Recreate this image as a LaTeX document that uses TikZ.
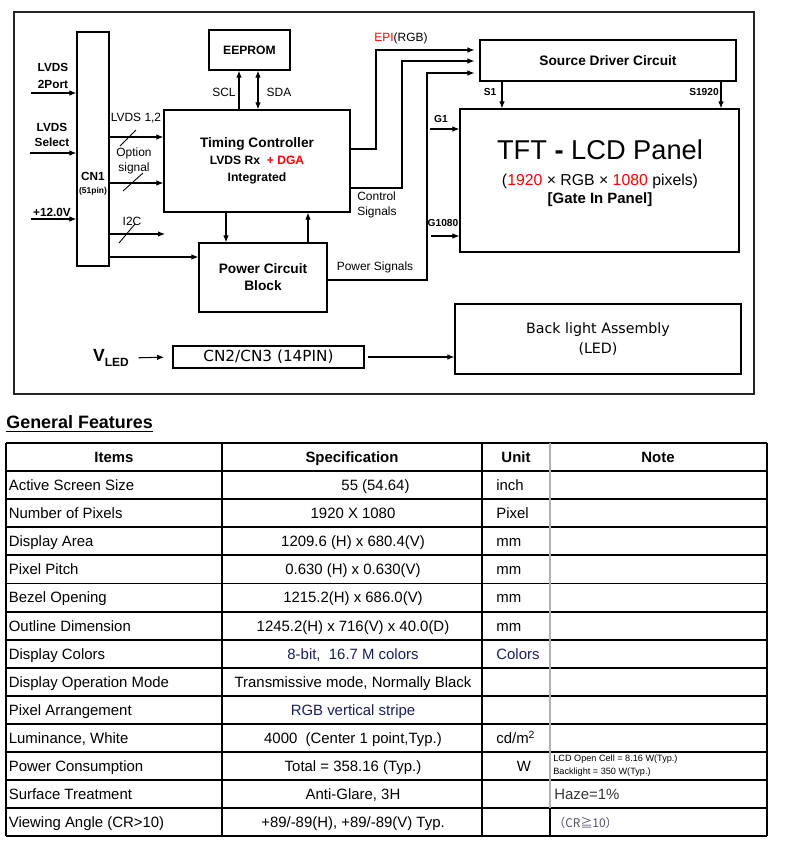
\documentclass[tikz,border=0pt]{standalone}
\usepackage{fontspec}
\setmainfont{Liberation Sans}
\newfontfamily\verdanafont{DejaVu Sans}
\newfontfamily\cjkfont{Noto Sans CJK SC}
\usetikzlibrary{positioning,arrows.meta}
\definecolor{specblue}{RGB}{25,30,90}
\definecolor{notegray}{RGB}{80,80,110}

\begin{document}
\begin{tikzpicture}[
    x=0.02cm, y=-0.02cm,
    block/.style={draw, line width=0.7pt, align=center, inner sep=0pt, font=\bfseries\fontsize{7.8}{9.6}\selectfont},
    lbl/.style={inner sep=0pt, align=center, font=\fontsize{6.8}{8.5}\selectfont},
    pinlbl/.style={inner sep=0pt, align=center, font=\bfseries\fontsize{6.7}{8.4}\selectfont},
    sig/.style={inner sep=0pt, font=\bfseries\fontsize{5.8}{7}\selectfont},
    tick/.style={line width=0.5pt},
    arrow/.style={-{Latex[length=1.4mm, width=1.1mm]}, line width=0.6pt},
    biarrow/.style={{Latex[length=1.4mm, width=1.1mm]}-{Latex[length=1.4mm, width=1.1mm]}, line width=0.6pt},
    cell/.style={inner sep=0pt, text height=8pt, text depth=1.8pt, font=\fontsize{8.5}{10}\selectfont},
    headcell/.style={cell, font=\bfseries\fontsize{8.5}{10}\selectfont},
    grid/.style={line width=1.1pt}
]
\useasboundingbox (0,0) rectangle (786,849);
\draw[line width=0.9pt, black!85] (14,12) rectangle (754,394);

\node[block, minimum width=0.64cm, minimum height=4.68cm] (cn1) at (93,149) {};
\node[pinlbl] (cn1txt) at (93,184) {CN1\\[-1pt]{\fontsize{4.8}{5}\selectfont(51pin)}};
\node[block, font=\bfseries\fontsize{6.9}{8}\selectfont, minimum width=1.62cm, minimum height=0.8cm] (eeprom) at (249.5,50) {EEPROM};
\node[block, minimum width=3.72cm, minimum height=2.04cm] (tcon) at (257,161) {Timing Controller\\{\fontsize{6.9}{8}\selectfont LVDS Rx\ \ \textcolor{red}{+ DGA}}\\{\fontsize{6.9}{8}\selectfont Integrated}};
\node[block, minimum width=2.56cm, minimum height=1.38cm] (pcb) at (263,277.5) {Power Circuit\\Block};
\node[block, minimum width=5.12cm, minimum height=0.82cm] (sdc) at (608,60.5) {Source Driver Circuit};
\node[block, minimum width=5.58cm, minimum height=2.86cm] (panel) at (599.5,180.5) {};
\node[inner sep=0pt, align=center, font=\fontsize{9}{10.2}\selectfont] (paneltxt) at (600,173) {{\fontsize{15.5}{17}\selectfont TFT {\bfseries -} LCD Panel}\\[4.5pt](\textcolor{red}{1920} × RGB × \textcolor{red}{1080} pixels)\\{\bfseries\fontsize{8.5}{10}\selectfont [Gate In Panel]}};
\node[block, font=\verdanafont\fontsize{8.1}{11.9}\selectfont, minimum width=5.72cm, minimum height=1.4cm] (blu) at (598,339) {Back light Assembly\\(LED)};
\node[block, line width=1.1pt, font=\verdanafont\fontsize{8.7}{10}\selectfont, minimum width=3.82cm, minimum height=0.44cm] (cn2) at (268.5,357) {CN2/CN3 (14PIN)};

\node[pinlbl] (lbl2port) at (53,76) {LVDS\\[1.5pt]2Port};
\node[pinlbl] (lblsel) at (52,135) {LVDS\\Select};
\node[pinlbl] (lbl12v) at (52,212) {+12.0V};
\node[lbl] (lblscl) at (224,92) {SCL};
\node[lbl] (lblsda) at (279,92) {SDA};
\node[lbl] (lbllvds) at (136,118) {LVDS 1,2};
\node[lbl] (lblopt) at (134,161) {Option\\signal};
\node[lbl] (lbli2c) at (132,221) {I2C};
\node[lbl] (lblepi) at (401,38) {\textcolor{red}{EPI}(RGB)};
\node[lbl, align=left, anchor=west] (lblctl) at (357,205) {Control\\Signals};
\node[lbl] (lblpwr) at (375,267) {Power Signals};
\node[sig] (lbls1) at (490,92) {S1};
\node[sig] (lblsn) at (704,92) {S1920};
\node[sig] (lblg1) at (441,119) {G1};
\node[sig] (lblgn) at (443,223) {G1080};
\node[inner sep=0pt, anchor=east, font=\bfseries\fontsize{10}{12}\selectfont] (vled) at (129,358) {V\raisebox{-0.5ex}{\fontsize{6.8}{8}\selectfont LED}};

\coordinate (in2port) at (31,93);
\coordinate (insel) at (30,153);
\coordinate (in12v) at (31,219);
\coordinate (lvdsy) at (0,137);
\coordinate (opty) at (0,183);
\coordinate (i2cend) at (165,234);
\coordinate (pwry) at (0,257);
\coordinate (sclx) at (239,0);
\coordinate (sdax) at (258,0);
\coordinate (downx) at (226,0);
\coordinate (upx) at (308,0);
\coordinate (epiy) at (0,149);
\coordinate (epitop) at (376,50);
\coordinate (ctly) at (0,188);
\coordinate (ctltop) at (402,61);
\coordinate (pwrsy) at (0,280);
\coordinate (pwrtop) at (427,73);
\coordinate (s1x) at (502,0);
\coordinate (snx) at (721,0);
\coordinate (g1) at (430,129);
\coordinate (gn) at (431,236);

\draw[arrow] (in2port) -- (in2port -| cn1.west);
\draw[arrow] (insel) -- (insel -| cn1.west);
\draw[arrow] (in12v) -- (in12v -| cn1.west);
\draw[arrow] (cn1.east |- lvdsy) -- (tcon.west |- lvdsy);
\draw[arrow] (cn1.east |- opty) -- (tcon.west |- opty);
\draw[arrow] (cn1.east |- i2cend) -- (i2cend);
\draw[arrow] (cn1.east |- pwry) -- (pcb.west |- pwry);
\draw[tick] (120,146) -- (136,130);
\draw[tick] (123,191) -- (143,173);
\draw[tick] (119,243) -- (135,224);
\draw[arrow] (sclx |- tcon.north) -- (sclx |- eeprom.south);
\draw[biarrow] (sdax |- tcon.north) -- (sdax |- eeprom.south);
\draw[arrow] (downx |- tcon.south) -- (downx |- pcb.north);
\draw[arrow] (upx |- pcb.north) -- (upx |- tcon.south);
\draw[arrow, shorten >=2.8pt] (tcon.east |- epiy) -| (epitop) -- (sdc.west |- epitop);
\draw[arrow, shorten >=2.8pt] (tcon.east |- ctly) -| (ctltop) -- (sdc.west |- ctltop);
\draw[arrow, shorten >=2.8pt] (pcb.east |- pwrsy) -| (pwrtop) -- (sdc.west |- pwrtop);
\draw[arrow] (s1x |- sdc.south) -- (s1x |- panel.north);
\draw[arrow] (snx |- sdc.south) -- (snx |- panel.north);
\draw[arrow] (g1) -- (g1 -| panel.west);
\draw[arrow] (gn) -- (gn -| panel.west);
\draw[arrow, shorten <=5.5pt, shorten >=4.5pt] (vled.east) -- (cn2.west);
\draw[arrow, shorten <=2pt] (cn2.east) -- (cn2.east -| blu.west);

\node[anchor=west, inner sep=0pt, font=\bfseries\fontsize{10.2}{12}\selectfont] (gftitle) at (6,424) {\underline{General Features}};
\foreach \r in {0,...,14}
    \draw[grid] (6,{443+28.1*\r}) -- (767,{443+28.1*\r});
\foreach \cx in {6,222,482,767}
    \draw[line width=0.8pt] (\cx,443) -- (\cx,836.4);
\draw[line width=1.3pt, black!30] (550,443) -- (550,808.3);
\draw[line width=1pt] (550,808.3) -- (550,836.4);

\node[headcell] (hitems) at (114,457) {Items};
\node[headcell] (hspec) at (352,457) {Specification};
\node[headcell] (hunit) at (516,457) {Unit};
\node[headcell] (hnote) at (658,457) {Note};
\foreach \n/\itm/\spc/\unt in {
    1/Active Screen Size/{\hspace*{0.9cm}55 (54.64)}/inch,
    2/Number of Pixels/1920 X 1080/Pixel,
    3/Display Area/1209.6 (H) x 680.4(V)/mm,
    4/Pixel Pitch/0.630 (H) x 0.630(V)/mm,
    5/Bezel Opening/1215.2(H) x 686.0(V)/mm,
    6/Outline Dimension/1245.2(H) x 716(V) x 40.0(D)/mm,
    7/Display Colors/{\color{specblue}8-bit,\ \ 16.7 M colors}/{\color{specblue}Colors},
    8/Display Operation Mode/{Transmissive mode, Normally Black}/{},
    9/Pixel Arrangement/{\color{specblue}RGB vertical stripe}/{},
    10/{Luminance, White}/{4000\ \ (Center 1 point,Typ.)}/{cd/m\textsuperscript{2}},
    11/Power Consumption/Total = 358.16 (Typ.)/{},
    12/Surface Treatment/{Anti-Glare, 3H}/{},
    13/Viewing Angle (CR>10)/{+89/-89(H), +89/-89(V) Typ.}/{}}
{
    \node[cell, anchor=west] (item\n) at (8.5,{457+28.1*\n}) {\itm};
    \node[cell] (spec\n) at (353,{457+28.1*\n}) {\spc};
    \node[cell, anchor=west] (unit\n) at (496,{457+28.1*\n}) {\unt};
}
\node[cell] (unitw) at (524,{457+28.1*11}) {W};
\node[inner sep=0pt, anchor=west, align=left, font=\fontsize{5.2}{7.4}\selectfont] (note11) at (553,{457+28.1*11}) {LCD Open Cell = 8.16 W(Typ.)\\Backlight = 350 W(Typ.)};
\node[cell, anchor=west, text=black!80] (note12) at (554,{457+28.1*12}) {Haze=1\%};
\node[cell, anchor=west, text=notegray, font=\cjkfont\fontsize{6.8}{8}\selectfont] (note13) at (553,{457+28.1*13}) {（CR≧10）};
\end{tikzpicture}
\end{document}
